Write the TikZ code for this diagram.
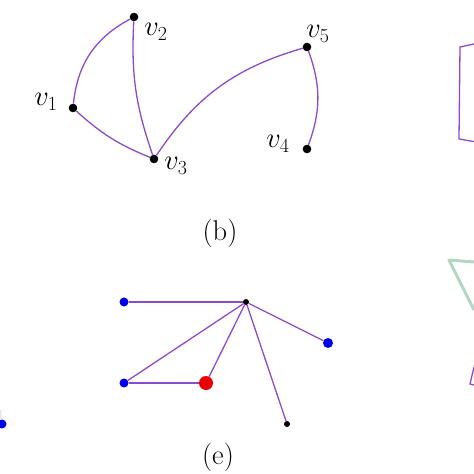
\RequirePackage{fix-cm}
\documentclass[tikz,border=0pt]{standalone}
\begin{document}
\begin{tikzpicture}[x=1pt,y=1pt,
  every node/.style={font=\fontsize{28.5}{34}\selectfont},
  edge/.style={draw={rgb,255:red,140;green,75;blue,200},line width=1.3pt},
  vtx/.style={circle,fill=black,inner sep=0pt,minimum size=8.6pt},
  bdot/.style={circle,fill={rgb,255:red,0;green,0;blue,230},inner sep=0pt,minimum size=9pt},
  bigbdot/.style={circle,fill={rgb,255:red,0;green,0;blue,230},inner sep=0pt,minimum size=10pt},
  kdot/.style={circle,fill=black,inner sep=0pt,minimum size=6pt},
  rdot/.style={circle,fill={rgb,255:red,235;green,0;blue,0},inner sep=0pt,minimum size=14pt},
  lbl/.style={inner sep=0pt}]
\useasboundingbox (0,0) rectangle (474,474);
\begin{scope}
\clip (0,0) rectangle (474,474);
% panel (b)
\node[vtx] (v1) at (73,366) {};
\node[vtx] (v2) at (134,457) {};
\node[vtx] (v3) at (154,315) {};
\node[vtx] (v5) at (307,427) {};
\node[vtx] (v4) at (307,325) {};
\draw[edge] (v1) to[bend left=28] (v2);
\draw[edge] (v2) to[bend right=11] (v3);
\draw[edge] (v1) to[bend right=10] (v3);
\draw[edge] (v3) to[bend left=20] (v5);
\draw[edge] (v5) to[bend left=20] (v4);
\node[lbl] (l1) at (46,372) {$v_1$};
\node[lbl] (l2) at (156,442) {$v_2$};
\node[lbl] (l3) at (176,308) {$v_3$};
\node[lbl] (l5) at (318,440) {$v_5$};
\node[lbl] (l4) at (278,330) {$v_4$};
\node[lbl] (capb) at (220,240.5) {(b)};
% panel (e)
\node[bdot] (a) at (124,172) {};
\node[kdot] (b) at (246,172) {};
\node[bdot] (c) at (124,91) {};
\node[rdot] (r) at (206,91) {};
\node[bigbdot] (d) at (328,131) {};
\node[kdot] (e) at (287,50) {};
\draw[edge] (a) -- (b);
\draw[edge] (c) -- (b);
\draw[edge] (c) -- (r);
\draw[edge] (r) -- (b);
\draw[edge] (b) -- (d);
\draw[edge] (b) -- (e);
\node[lbl] (cape) at (218,16.5) {(e)};
% neighbouring panels cut by the border
\node[bdot] (f) at (2,50) {};
\draw[draw={rgb,255:red,222;green,234;blue,246},line width=2pt] (0,64) -- (f);
\draw[edge] (474,430) -- (460,427) -- (459,335) -- (474,332.4);
\draw[draw={rgb,255:red,182;green,214;blue,196},line width=3pt,line join=round] (474,212) -- (449,214) -- (474,164);
\draw[edge] (474,107) -- (470,90) -- (474,89);
\end{scope}
\end{tikzpicture}
\end{document}
